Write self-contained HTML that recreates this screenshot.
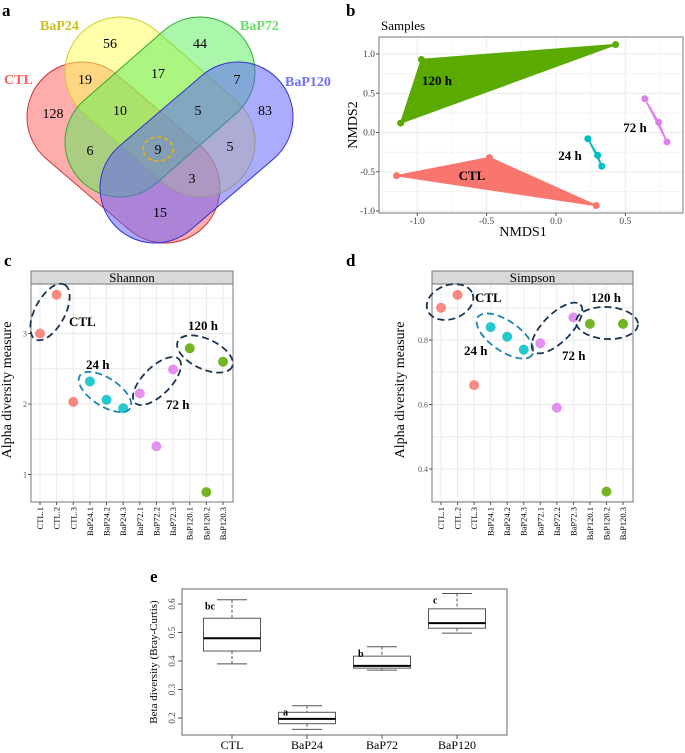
<!DOCTYPE html>
<html><head><meta charset="utf-8"><style>
html,body{margin:0;padding:0;background:#fff}
svg{display:block;font-family:"Liberation Serif",serif}
</style></head><body>
<svg id="fig" width="685" height="753" viewBox="0 0 685 753" xmlns="http://www.w3.org/2000/svg">
<g id="pa"></g>
<g id="pb"></g>
<g id="pc"></g>
<g id="pd"></g>
<g id="pe"></g>
</svg>
<script>
const NS="http://www.w3.org/2000/svg";
function mk(p,tag,at,txt){const e=document.createElementNS(NS,tag);for(const k in at)e.setAttribute(k,at[k]);if(txt!==undefined)e.textContent=txt;p.appendChild(e);return e;}

// ---------- Panel a: Venn ----------
const vennSets=["CTL","BaP24","BaP72","BaP120"];
const vennColors=["#ff5a5a","#ffff55","#55ee55","#5a5aff"];
const vennStroke=["#cc3333","#cccc33","#33aa33","#3333cc"];
const vennCaps=[[82,117,165,188],[120,72,200,142],[200,72,120,142],[238,117,155,188]];
const vennLabels=[[4,84,"#ff6060"],[40,30,"#c8c020"],[240,30,"#66dd66"],[285,86,"#7070ff"]];
const vennCounts=["56","44","19","17","7","128","10","5","83","6","9","5","3","15"];
const vennCountPos=[[110,48],[200,48],[85,84],[158,78],[237,84],[53,118],[120,115],[198,115],[265,115],[90,155],[158,154],[230,151],[192,183],[160,217]];
(function(){
 const g=document.getElementById("pa");
 const t=mk(g,"text",{x:2,y:16,"font-size":17,"font-weight":"bold"},"a");
 
 const W=110;
 vennCaps.forEach((c,i)=>{
  const cx=(c[0]+c[2])/2,cy=(c[1]+c[3])/2,d=Math.hypot(c[2]-c[0],c[3]-c[1]);
  const ang=Math.atan2(c[3]-c[1],c[2]-c[0])*180/Math.PI;
  const r=mk(g,"rect",{x:cx-(d+W)/2,y:cy-W/2,width:d+W,height:W,rx:W/2,ry:W/2,fill:vennColors[i],"fill-opacity":0.5,stroke:vennStroke[i],"stroke-width":1,transform:`rotate(${ang} ${cx} ${cy})`});
  
  const l=mk(g,"text",{x:vennLabels[i][0],y:vennLabels[i][1],"font-size":14,"font-weight":"bold",fill:vennLabels[i][2]},vennSets[i]);
  
 });
 vennCounts.forEach((v,i)=>{
  const tt=mk(g,"text",{x:vennCountPos[i][0],y:vennCountPos[i][1],"font-size":14,"text-anchor":"middle"},v);
  
 });
 const e=mk(g,"ellipse",{cx:158,cy:149,rx:15,ry:12,fill:"none",stroke:"#f0b000","stroke-width":1.6,"stroke-dasharray":"4 3"});
 
})();

// ---------- Panel b: NMDS ----------
const nmdsGroups=["120 h","CTL","24 h","72 h"];
const nmdsColors=["#5aaa00","#f8766d","#00bfc4","#e07ef0"];
const nmdsX1=[-0.97,0.43,-1.12];const nmdsY1=[0.93,1.12,0.12];
const nmdsX2=[-1.15,-0.48,0.29];const nmdsY2=[-0.55,-0.32,-0.93];
const nmdsX3=[0.23,0.30,0.33];const nmdsY3=[-0.08,-0.29,-0.43];
const nmdsX4=[0.64,0.74,0.80];const nmdsY4=[0.43,0.13,-0.12];
const nmdsXTicks=[-1.0,-0.5,0.0,0.5];const nmdsYTicks=[-1.0,-0.5,0.0,0.5,1.0];
(function(){
 const g=document.getElementById("pb");
 const L=379,R=683,T=37,B=213;
 const sx=v=>556+v*138.7, sy=v=>132.5-v*78.5;
 let t=mk(g,"text",{x:346,y:16,"font-size":17,"font-weight":"bold"},"b");
 t=mk(g,"text",{x:381,y:30,"font-size":13},"Samples");
 for(let v=-1.25;v<=1.25;v+=0.25){const y=sy(v);if(y>T&&y<B){const l=mk(g,"line",{x1:L,x2:R,y1:y,y2:y,stroke:"#ebebeb","stroke-width":(Math.abs(v*2-Math.round(v*2))<1e-6)?1:0.5});}}
 for(let v=-1.25;v<=1.0;v+=0.25){const x=sx(v);if(x>L&&x<R){const l=mk(g,"line",{y1:T,y2:B,x1:x,x2:x,stroke:"#ebebeb","stroke-width":(Math.abs(v*2-Math.round(v*2))<1e-6)?1:0.5});}}
 const fr=mk(g,"rect",{x:L,y:T,width:R-L,height:B-T,fill:"none",stroke:"#777","stroke-width":1});
 nmdsXTicks.forEach(v=>{const x=sx(v);mk(g,"line",{x1:x,x2:x,y1:B,y2:B+3,stroke:"#555"});const tx=mk(g,"text",{x:x,y:B+11,"font-size":9.5,"text-anchor":"middle",fill:"#444"},v.toFixed(1));});
 nmdsYTicks.forEach(v=>{const y=sy(v);mk(g,"line",{x1:L-3,x2:L,y1:y,y2:y,stroke:"#555"});const tx=mk(g,"text",{x:L-4,y:y+3,"font-size":9.5,"text-anchor":"end",fill:"#444"},v.toFixed(1));});
 t=mk(g,"text",{x:523,y:236,"font-size":14,"text-anchor":"middle"},"NMDS1");
 t=mk(g,"text",{x:0,y:0,"font-size":14,"text-anchor":"middle",transform:`translate(357,${(T+B)/2}) rotate(-90)`},"NMDS2");
 const sets=[[nmdsX1,nmdsY1],[nmdsX2,nmdsY2],[nmdsX3,nmdsY3],[nmdsX4,nmdsY4]];
 sets.forEach((s,i)=>{
  const pts=s[0].map((x,j)=>sx(x)+","+sy(s[1][j])).join(" ");
  const p=mk(g,"polygon",{points:pts,fill:nmdsColors[i],stroke:nmdsColors[i],"stroke-width":1.5,"stroke-linejoin":"round"});
  
  s[0].forEach((x,j)=>{const c=mk(g,"circle",{cx:sx(x),cy:sy(s[1][j]),r:3.5,fill:nmdsColors[i]});});
 });
 const lab=[[437,85,"120 h"],[472,180,"CTL"],[570,160,"24 h"],[635,132,"72 h"]];
 lab.forEach(l=>{const tx=mk(g,"text",{x:l[0],y:l[1],"font-size":13,"font-weight":"bold","text-anchor":"middle"},l[2]);});
})();

// ---------- Panels c & d ----------
const alphaSamples=["CTL.1","CTL.2","CTL.3","BaP24.1","BaP24.2","BaP24.3","BaP72.1","BaP72.2","BaP72.3","BaP120.1","BaP120.2","BaP120.3"];
const shannonValues=[3.0,3.55,2.03,2.32,2.06,1.94,2.15,1.40,2.49,2.79,0.75,2.60];
const simpsonValues=[0.90,0.94,0.66,0.84,0.81,0.77,0.79,0.59,0.87,0.85,0.33,0.85];
const shannonTicks=[1,2,3];const simpsonTicks=[0.4,0.6,0.8];
const sampleColors=["#f8766d","#f8766d","#f8766d","#00bfc4","#00bfc4","#00bfc4","#e07ef0","#e07ef0","#e07ef0","#5aaa00","#5aaa00","#5aaa00"];
function alphaPanel(gid,L,R,title,vals,ticks,sy,minorStep,tickFmt,ylab,letter,lx,ellipses,labels){
 const g=document.getElementById(gid);const T=284,B=502,ST=271;
 let t=mk(g,"text",{x:lx,y:266,"font-size":17,"font-weight":"bold"},letter);
 const n=vals.length;const x0=L+9,dx=(R-L-19)/(n-1);const sx=i=>x0+i*dx;
 for(let v=ticks[0]-minorStep*2;v<ticks[ticks.length-1]+minorStep*3;v+=minorStep){const y=sy(v);if(y>T&&y<B){const l=mk(g,"line",{x1:L,x2:R,y1:y,y2:y,stroke:"#ebebeb","stroke-width":1});}}
 for(let i=0;i<n;i++){const l=mk(g,"line",{x1:sx(i),x2:sx(i),y1:T,y2:B,stroke:"#ebebeb"});}
 const s=mk(g,"rect",{x:L,y:ST,width:R-L,height:T-ST,fill:"#d9d9d9",stroke:"#777"});
 t=mk(g,"text",{x:(L+R)/2,y:282,"font-size":13,"text-anchor":"middle"},title);
 const fr=mk(g,"rect",{x:L,y:T,width:R-L,height:B-T,fill:"none",stroke:"#777"});
 ticks.forEach(v=>{const y=sy(v);mk(g,"line",{x1:L-3,x2:L,y1:y,y2:y,stroke:"#555"});const tx=mk(g,"text",{x:L-4,y:y+3,"font-size":8,"text-anchor":"end",fill:"#555"},tickFmt(v));});
 alphaSamples.forEach((nm,i)=>{mk(g,"line",{x1:sx(i),x2:sx(i),y1:B,y2:B+3,stroke:"#555"});const tx=mk(g,"text",{x:0,y:0,"font-size":8.5,"text-anchor":"end",transform:`translate(${sx(i)+3},${B+5}) rotate(-90)`},nm);});
 t=mk(g,"text",{x:0,y:0,"font-size":14,"text-anchor":"middle",transform:`translate(${ylab},390) rotate(-90)`},"Alpha diversity measure");
 vals.forEach((v,i)=>{const c=mk(g,"circle",{cx:sx(i),cy:sy(v),r:5,fill:sampleColors[i],"fill-opacity":0.85});});
 ellipses.forEach(e=>{const el=mk(g,"ellipse",{cx:e[0],cy:e[1],rx:e[2],ry:e[3],transform:`rotate(${e[4]} ${e[0]} ${e[1]})`,fill:"none",stroke:e[5],"stroke-width":1.8,"stroke-dasharray":"7 4"});});
 labels.forEach(l=>{const tx=mk(g,"text",{x:l[0],y:l[1],"font-size":13,"font-weight":"bold"},l[2]);});
}
alphaPanel("pc",31,233,"Shannon",shannonValues,shannonTicks,v=>404-(v-2)*70.5,0.5,v=>String(v),11,"c",4,
 [[50,312,31,15,-62,"#1c3550"],[105,392,30,14,33,"#1b87b0"],[157,381,31,14,-45,"#1c3550"],[205,354,30,15,25,"#1c3550"]],
 [[69,326,"CTL"],[86,369,"24 h"],[166,409,"72 h"],[188,330,"120 h"]]);
alphaPanel("pd",432,633,"Simpson",simpsonValues,simpsonTicks,v=>340-(v-0.8)*322.5,0.1,v=>v.toFixed(1),404,"d",346,
 [[450,302,24,17,-20,"#1c3550"],[505,336,33,15,35,"#1b87b0"],[557,328,33,14,-45,"#1c3550"],[607,323,31,16,3,"#1c3550"]],
 [[475,302,"CTL"],[464,355,"24 h"],[562,360,"72 h"],[591,302,"120 h"]]);

// ---------- Panel e: boxplot ----------
const betaGroups=["CTL","BaP24","BaP72","BaP120"];
const betaMin=[0.39,0.16,0.368,0.498];
const betaQ1=[0.435,0.18,0.375,0.515];
const betaMed=[0.48,0.197,0.383,0.533];
const betaQ3=[0.55,0.22,0.417,0.583];
const betaMax=[0.615,0.243,0.45,0.637];
const betaLetters=["bc","a","b","c"];
const betaTicks=[0.2,0.3,0.4,0.5,0.6];
(function(){
 const g=document.getElementById("pe");
 const L=182,R=507,T=589,B=735;
 const sy=v=>718-(v-0.2)*285;const sx=i=>232+i*75;const bw=57;
 let t=mk(g,"text",{x:150,y:582,"font-size":17,"font-weight":"bold"},"e");
 const fr=mk(g,"rect",{x:L,y:T,width:R-L,height:B-T,fill:"none",stroke:"#666"});
 betaTicks.forEach(v=>{const y=sy(v);mk(g,"line",{x1:L-4,x2:L,y1:y,y2:y,stroke:"#555"});const tx=mk(g,"text",{x:0,y:0,"font-size":9,"text-anchor":"middle",fill:"#444",transform:`translate(${L-7},${y}) rotate(-90)`},v.toFixed(1));});
 t=mk(g,"text",{x:0,y:0,"font-size":11,"text-anchor":"middle",transform:`translate(157,${(T+B)/2}) rotate(-90)`},"Beta diversity (Bray-Curtis)");
 betaGroups.forEach((nm,i)=>{
  const x=sx(i);
  mk(g,"line",{x1:x,x2:x,y1:B,y2:B+4,stroke:"#555"});
  const tx=mk(g,"text",{x:x,y:749,"font-size":12,"text-anchor":"middle"},nm);
  const w1=mk(g,"line",{x1:x,x2:x,y1:sy(betaMax[i]),y2:sy(betaQ3[i]),stroke:"#555","stroke-dasharray":"3 2"});
  const w2=mk(g,"line",{x1:x,x2:x,y1:sy(betaQ1[i]),y2:sy(betaMin[i]),stroke:"#555","stroke-dasharray":"3 2"});
  [betaMax[i],betaMin[i]].forEach(v=>{const c=mk(g,"line",{x1:x-15,x2:x+15,y1:sy(v),y2:sy(v),stroke:"#555"});});
  const b=mk(g,"rect",{x:x-bw/2,y:sy(betaQ3[i]),width:bw,height:sy(betaQ1[i])-sy(betaQ3[i]),fill:"#fff",stroke:"#555"});
  const m=mk(g,"line",{x1:x-bw/2,x2:x+bw/2,y1:sy(betaMed[i]),y2:sy(betaMed[i]),stroke:"#000","stroke-width":2});
  const lt=mk(g,"text",{x:x-24+(betaLetters[i].length>1?-3:0),y:sy(betaMax[i])+10,"font-size":10,"font-weight":"bold"},betaLetters[i]);
 });
})();
</script>
</body></html>
